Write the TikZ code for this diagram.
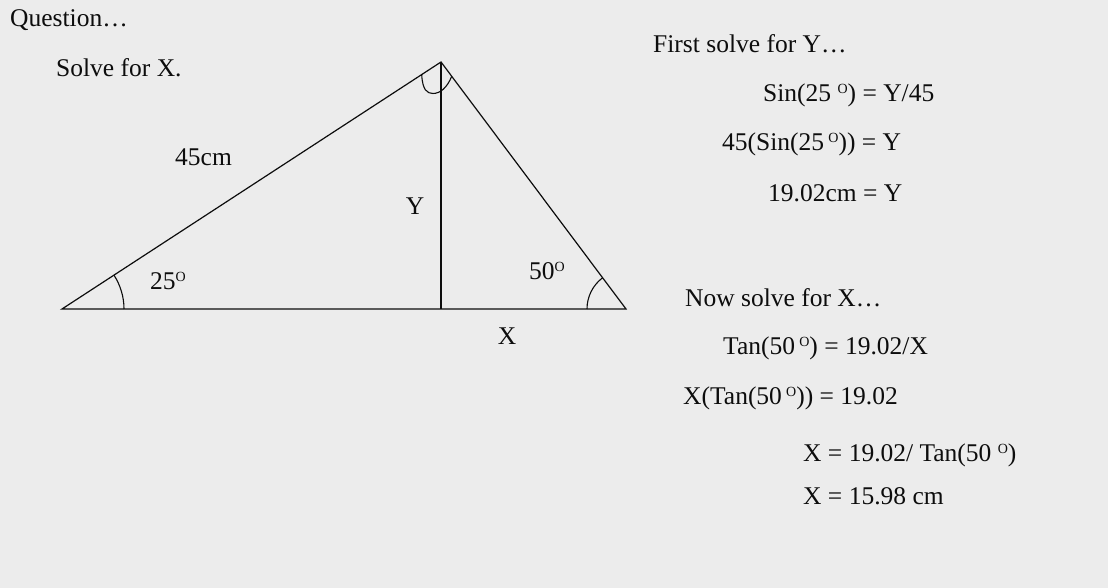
\documentclass[tikz,border=0pt]{standalone}
\usepackage{fontspec}
\setmainfont{Liberation Serif}
\definecolor{bgc}{HTML}{ECECEC}
\definecolor{ink}{HTML}{0D0D0D}
\newcommand\dg{\raisebox{8pt}{\fontsize{14}{14}\selectfont O}}
\begin{document}
\begin{tikzpicture}[x=1pt,y=1pt,
  txt/.style={inner sep=0pt, text=ink, font=\fontsize{25.5}{30}\selectfont},
  edge/.style={line width=1.2pt, draw=ink},
  anglemark/.style={line width=1.1pt, draw=ink}]
\fill[bgc] (0,0) rectangle (1108,588);
\useasboundingbox (0,0) rectangle (1108,588);
% triangle
\coordinate (A) at (62,279);
\coordinate (B) at (441,526);
\coordinate (C) at (626,279);
\coordinate (D) at (441,279);
\draw[edge, line join=miter] (A) -- (B) -- (C) -- cycle;
\draw[edge] (B) -- (D);
% angle marks
\draw[anglemark] (124,279) arc[start angle=0, end angle=33.09, radius=62pt];
\draw[anglemark] (587,279) arc[start angle=180, end angle=126.84, radius=39pt];
\draw[anglemark] (421.7,513.4) .. controls (422.5,498) and (427,494.5) .. (433,494.5)
  .. controls (440,494.5) and (447,500) .. (451.7,511.7);
% labels
\node[txt, anchor=base west] (q) at (10,561) {Question…};
\node[txt, anchor=base west] (s) at (56,511) {Solve for X.};
\node[txt, anchor=base west] (hyp) at (175,422) {45cm};
\node[txt, anchor=base] (ly) at (415,373) {Y};
\node[txt, anchor=base west] (a25) at (150,298) {25\dg};
\node[txt, anchor=base west] (a50) at (529,308) {50\dg};
\node[txt, anchor=base] (lx) at (507,243) {X};
% working
\node[txt, anchor=base west] (f1) at (653,535) {First solve for Y…};
\node[txt, anchor=base west] (f2) at (763,486) {Sin(25 \dg) = Y/45};
\node[txt, anchor=base west] (f3) at (722,437) {45(Sin(25\,\dg)) = Y};
\node[txt, anchor=base west] (f4) at (768,386) {19.02cm = Y};
\node[txt, anchor=base west] (n1) at (685,281) {Now solve for X…};
\node[txt, anchor=base west] (n2) at (723,233) {Tan(50\,\dg) = 19.02/X};
\node[txt, anchor=base west] (n3) at (683,183) {X(Tan(50\,\dg)) = 19.02};
\node[txt, anchor=base west] (n4) at (803,126) {X = 19.02/ Tan(50 \dg)};
\node[txt, anchor=base west] (n5) at (803,83) {X = 15.98 cm};
\end{tikzpicture}
\end{document}
